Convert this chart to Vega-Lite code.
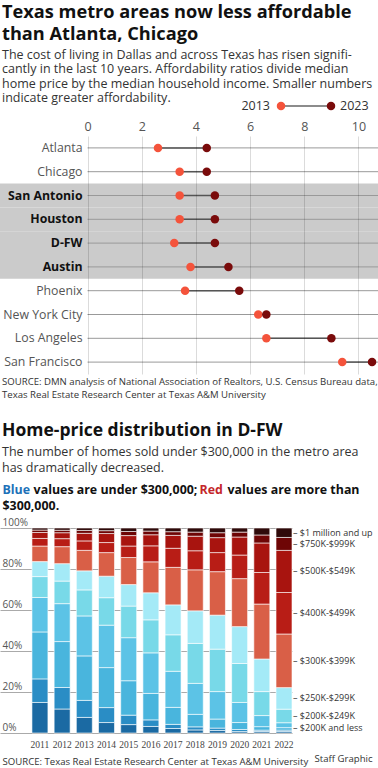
{
  "$schema": "https://vega.github.io/schema/vega-lite/v6.json",
  "padding": {"top": 3, "left": 0, "right": 0, "bottom": 0},
  "background": "white",
  "config": {
    "view": {"stroke": null},
    "font": "Open Sans",
    "title": {"font": "Open Sans"},
    "axis": {"labelFont": "Open Sans", "titleFont": "Open Sans"},
    "text": {"font": "Open Sans"}
  },
  "datasets": {
    "ratios": [
      {"city": "Atlanta", "year": 2013, "ratio": 2.6}, {"city": "Atlanta", "year": 2023, "ratio": 4.4},
      {"city": "Chicago", "year": 2013, "ratio": 3.4}, {"city": "Chicago", "year": 2023, "ratio": 4.4},
      {"city": "San Antonio", "year": 2013, "ratio": 3.4}, {"city": "San Antonio", "year": 2023, "ratio": 4.7},
      {"city": "Houston", "year": 2013, "ratio": 3.4}, {"city": "Houston", "year": 2023, "ratio": 4.7},
      {"city": "D-FW", "year": 2013, "ratio": 3.2}, {"city": "D-FW", "year": 2023, "ratio": 4.7},
      {"city": "Austin", "year": 2013, "ratio": 3.8}, {"city": "Austin", "year": 2023, "ratio": 5.2},
      {"city": "Phoenix", "year": 2013, "ratio": 3.6}, {"city": "Phoenix", "year": 2023, "ratio": 5.6},
      {"city": "New York City", "year": 2013, "ratio": 6.3}, {"city": "New York City", "year": 2023, "ratio": 6.6},
      {"city": "Los Angeles", "year": 2013, "ratio": 6.6}, {"city": "Los Angeles", "year": 2023, "ratio": 9.0},
      {"city": "San Francisco", "year": 2013, "ratio": 9.4}, {"city": "San Francisco", "year": 2023, "ratio": 10.5}
    ],
    "brackets": [
      {"cat": "Under $70K", "order": 0, "label": "$200K and less"},
      {"cat": "$70K-$99K", "order": 1, "label": "$200K and less"},
      {"cat": "$100K-$149K", "order": 2, "label": "$200K and less"},
      {"cat": "$150K-$199K", "order": 3, "label": "$200K and less"},
      {"cat": "$200K-$249K", "order": 4, "label": "$200K-$249K"},
      {"cat": "$250K-$299K", "order": 5, "label": "$250K-$299K"},
      {"cat": "$300K-$399K", "order": 6, "label": "$300K-$399K"},
      {"cat": "$400K-$499K", "order": 7, "label": "$400K-$499K"},
      {"cat": "$500K-$749K", "order": 8, "label": "$500K-$549K"},
      {"cat": "$750K-$999K", "order": 9, "label": "$750K-$999K"},
      {"cat": "$1M and up", "order": 10, "label": "$1 million and up"}
    ],
    "prices": [
      {"year": "2011", "cat": "Under $70K", "share": 14.9}, {"year": "2011", "cat": "$70K-$99K", "share": 11.5}, {"year": "2011", "cat": "$100K-$149K", "share": 22.9}, {"year": "2011", "cat": "$150K-$199K", "share": 16.8}, {"year": "2011", "cat": "$200K-$249K", "share": 10.2}, {"year": "2011", "cat": "$250K-$299K", "share": 7.3}, {"year": "2011", "cat": "$300K-$399K", "share": 7.6}, {"year": "2011", "cat": "$400K-$499K", "share": 3.7}, {"year": "2011", "cat": "$500K-$749K", "share": 2.9}, {"year": "2011", "cat": "$750K-$999K", "share": 1.2}, {"year": "2011", "cat": "$1M and up", "share": 1.0},
      {"year": "2012", "cat": "Under $70K", "share": 11.7}, {"year": "2012", "cat": "$70K-$99K", "share": 10.5}, {"year": "2012", "cat": "$100K-$149K", "share": 22.4}, {"year": "2012", "cat": "$150K-$199K", "share": 18.5}, {"year": "2012", "cat": "$200K-$249K", "share": 11.0}, {"year": "2012", "cat": "$250K-$299K", "share": 8.5}, {"year": "2012", "cat": "$300K-$399K", "share": 8.3}, {"year": "2012", "cat": "$400K-$499K", "share": 3.9}, {"year": "2012", "cat": "$500K-$749K", "share": 2.9}, {"year": "2012", "cat": "$750K-$999K", "share": 1.2}, {"year": "2012", "cat": "$1M and up", "share": 1.1},
      {"year": "2013", "cat": "Under $70K", "share": 7.6}, {"year": "2013", "cat": "$70K-$99K", "share": 8.3}, {"year": "2013", "cat": "$100K-$149K", "share": 21.7}, {"year": "2013", "cat": "$150K-$199K", "share": 19.5}, {"year": "2013", "cat": "$200K-$249K", "share": 12.7}, {"year": "2013", "cat": "$250K-$299K", "share": 9.3}, {"year": "2013", "cat": "$300K-$399K", "share": 10.0}, {"year": "2013", "cat": "$400K-$499K", "share": 4.6}, {"year": "2013", "cat": "$500K-$749K", "share": 3.7}, {"year": "2013", "cat": "$750K-$999K", "share": 1.4}, {"year": "2013", "cat": "$1M and up", "share": 1.2},
      {"year": "2014", "cat": "Under $70K", "share": 5.1}, {"year": "2014", "cat": "$70K-$99K", "share": 7.3}, {"year": "2014", "cat": "$100K-$149K", "share": 19.5}, {"year": "2014", "cat": "$150K-$199K", "share": 20.7}, {"year": "2014", "cat": "$200K-$249K", "share": 13.4}, {"year": "2014", "cat": "$250K-$299K", "share": 10.5}, {"year": "2014", "cat": "$300K-$399K", "share": 11.5}, {"year": "2014", "cat": "$400K-$499K", "share": 4.9}, {"year": "2014", "cat": "$500K-$749K", "share": 4.4}, {"year": "2014", "cat": "$750K-$999K", "share": 1.4}, {"year": "2014", "cat": "$1M and up", "share": 1.3},
      {"year": "2015", "cat": "Under $70K", "share": 4.1}, {"year": "2015", "cat": "$70K-$99K", "share": 4.6}, {"year": "2015", "cat": "$100K-$149K", "share": 16.8}, {"year": "2015", "cat": "$150K-$199K", "share": 21.0}, {"year": "2015", "cat": "$200K-$249K", "share": 15.4}, {"year": "2015", "cat": "$250K-$299K", "share": 10.5}, {"year": "2015", "cat": "$300K-$399K", "share": 13.2}, {"year": "2015", "cat": "$400K-$499K", "share": 5.6}, {"year": "2015", "cat": "$500K-$749K", "share": 5.1}, {"year": "2015", "cat": "$750K-$999K", "share": 2.0}, {"year": "2015", "cat": "$1M and up", "share": 1.7},
      {"year": "2016", "cat": "Under $70K", "share": 3.2}, {"year": "2016", "cat": "$70K-$99K", "share": 3.2}, {"year": "2016", "cat": "$100K-$149K", "share": 12.9}, {"year": "2016", "cat": "$150K-$199K", "share": 19.8}, {"year": "2016", "cat": "$200K-$249K", "share": 16.1}, {"year": "2016", "cat": "$250K-$299K", "share": 13.2}, {"year": "2016", "cat": "$300K-$399K", "share": 15.1}, {"year": "2016", "cat": "$400K-$499K", "share": 7.8}, {"year": "2016", "cat": "$500K-$749K", "share": 5.4}, {"year": "2016", "cat": "$750K-$999K", "share": 1.8}, {"year": "2016", "cat": "$1M and up", "share": 1.5},
      {"year": "2017", "cat": "Under $70K", "share": 2.2}, {"year": "2017", "cat": "$70K-$99K", "share": 2.0}, {"year": "2017", "cat": "$100K-$149K", "share": 8.3}, {"year": "2017", "cat": "$150K-$199K", "share": 17.6}, {"year": "2017", "cat": "$200K-$249K", "share": 17.8}, {"year": "2017", "cat": "$250K-$299K", "share": 14.6}, {"year": "2017", "cat": "$300K-$399K", "share": 18.3}, {"year": "2017", "cat": "$400K-$499K", "share": 9.3}, {"year": "2017", "cat": "$500K-$749K", "share": 6.3}, {"year": "2017", "cat": "$750K-$999K", "share": 1.8}, {"year": "2017", "cat": "$1M and up", "share": 1.8},
      {"year": "2018", "cat": "Under $70K", "share": 1.5}, {"year": "2018", "cat": "$70K-$99K", "share": 1.5}, {"year": "2018", "cat": "$100K-$149K", "share": 6.1}, {"year": "2018", "cat": "$150K-$199K", "share": 15.1}, {"year": "2018", "cat": "$200K-$249K", "share": 19.5}, {"year": "2018", "cat": "$250K-$299K", "share": 15.9}, {"year": "2018", "cat": "$300K-$399K", "share": 20.0}, {"year": "2018", "cat": "$400K-$499K", "share": 9.3}, {"year": "2018", "cat": "$500K-$749K", "share": 7.1}, {"year": "2018", "cat": "$750K-$999K", "share": 2.0}, {"year": "2018", "cat": "$1M and up", "share": 2.0},
      {"year": "2019", "cat": "Under $70K", "share": 1.2}, {"year": "2019", "cat": "$70K-$99K", "share": 1.2}, {"year": "2019", "cat": "$100K-$149K", "share": 4.4}, {"year": "2019", "cat": "$150K-$199K", "share": 13.4}, {"year": "2019", "cat": "$200K-$249K", "share": 20.7}, {"year": "2019", "cat": "$250K-$299K", "share": 16.6}, {"year": "2019", "cat": "$300K-$399K", "share": 21.2}, {"year": "2019", "cat": "$400K-$499K", "share": 9.3}, {"year": "2019", "cat": "$500K-$749K", "share": 7.3}, {"year": "2019", "cat": "$750K-$999K", "share": 2.4}, {"year": "2019", "cat": "$1M and up", "share": 2.3},
      {"year": "2020", "cat": "Under $70K", "share": 0.7}, {"year": "2020", "cat": "$70K-$99K", "share": 1.0}, {"year": "2020", "cat": "$100K-$149K", "share": 3.4}, {"year": "2020", "cat": "$150K-$199K", "share": 9.8}, {"year": "2020", "cat": "$200K-$249K", "share": 19.0}, {"year": "2020", "cat": "$250K-$299K", "share": 18.0}, {"year": "2020", "cat": "$300K-$399K", "share": 23.4}, {"year": "2020", "cat": "$400K-$499K", "share": 11.5}, {"year": "2020", "cat": "$500K-$749K", "share": 8.8}, {"year": "2020", "cat": "$750K-$999K", "share": 2.4}, {"year": "2020", "cat": "$1M and up", "share": 2.0},
      {"year": "2021", "cat": "Under $70K", "share": 0.7}, {"year": "2021", "cat": "$70K-$99K", "share": 0.7}, {"year": "2021", "cat": "$100K-$149K", "share": 1.7}, {"year": "2021", "cat": "$150K-$199K", "share": 5.4}, {"year": "2021", "cat": "$200K-$249K", "share": 11.7}, {"year": "2021", "cat": "$250K-$299K", "share": 15.9}, {"year": "2021", "cat": "$300K-$399K", "share": 26.8}, {"year": "2021", "cat": "$400K-$499K", "share": 15.4}, {"year": "2021", "cat": "$500K-$749K", "share": 14.4}, {"year": "2021", "cat": "$750K-$999K", "share": 3.9}, {"year": "2021", "cat": "$1M and up", "share": 3.4},
      {"year": "2022", "cat": "Under $70K", "share": 0.7}, {"year": "2022", "cat": "$70K-$99K", "share": 0.7}, {"year": "2022", "cat": "$100K-$149K", "share": 1.2}, {"year": "2022", "cat": "$150K-$199K", "share": 2.4}, {"year": "2022", "cat": "$200K-$249K", "share": 6.6}, {"year": "2022", "cat": "$250K-$299K", "share": 10.5}, {"year": "2022", "cat": "$300K-$399K", "share": 26.1}, {"year": "2022", "cat": "$400K-$499K", "share": 20.2}, {"year": "2022", "cat": "$500K-$749K", "share": 20.5}, {"year": "2022", "cat": "$750K-$999K", "share": 6.3}, {"year": "2022", "cat": "$1M and up", "share": 4.6}
    ]
  },
  "spacing": 22,
  "resolve": {"scale": {"color": "independent"}},
  "vconcat": [
    {
      "spacing": 7,
      "resolve": {"scale": {"color": "independent"}},
      "vconcat": [
        {
          "width": 378,
          "height": 12,
          "title": {
            "text": ["Texas metro areas now less affordable", "than Atlanta, Chicago"],
            "subtitle": ["The cost of living in Dallas and across Texas has risen signifi-", "cantly in the last 10 years. Affordability ratios divide median", "home price by the median household income. Smaller numbers", "indicate greater affordability."],
            "anchor": "start", "frame": "group", "dx": 2,
            "fontSize": 18.2, "fontWeight": "bold", "color": "#111", "lineHeight": 21.5,
            "subtitleFontSize": 12.5, "subtitleColor": "#333", "subtitleLineHeight": 14.6, "subtitlePadding": 5,
            "offset": -6
          },
          "data": {"name": "ratios"},
          "transform": [{"aggregate": [{"op": "count", "as": "n"}], "groupby": ["year"]}],
          "encoding": {
            "x": {"field": "year", "type": "quantitative", "scale": {"domain": [1956.8, 2032.4], "nice": false, "zero": false}, "axis": null}
          },
          "layer": [
            {"mark": {"type": "line", "color": "#666", "strokeWidth": 1.5}},
            {"mark": {"type": "circle", "size": 72, "opacity": 1},
             "encoding": {"color": {"field": "year", "type": "nominal", "scale": {"domain": [2013, 2023], "range": ["#f4533b", "#7a0b0b"]}, "legend": null}}},
            {"transform": [{"filter": "datum.year == 2013"}],
             "mark": {"type": "text", "align": "right", "baseline": "middle", "dx": -11, "fontSize": 12.5, "color": "#333"},
             "encoding": {"text": {"field": "year", "type": "nominal"}}},
            {"transform": [{"filter": "datum.year == 2023"}],
             "mark": {"type": "text", "align": "left", "baseline": "middle", "dx": 9, "fontSize": 12.5, "color": "#333"},
             "encoding": {"text": {"field": "year", "type": "nominal"}}}
          ]
        },
        {
          "width": 378,
          "height": 238,
          "title": {
            "text": ["SOURCE: DMN analysis of National Association of Realtors, U.S. Census Bureau data,", "Texas Real Estate Research Center at Texas A&M University"],
            "orient": "bottom", "anchor": "start", "frame": "group", "dx": 2,
            "fontSize": 9.6, "fontWeight": "normal", "color": "#333", "lineHeight": 13, "offset": 3
          },
          "data": {"name": "ratios"},
          "encoding": {
            "y": {"field": "city", "type": "nominal",
                  "sort": ["Atlanta", "Chicago", "San Antonio", "Houston", "D-FW", "Austin", "Phoenix", "New York City", "Los Angeles", "San Francisco"],
                  "scale": {"paddingInner": 0, "paddingOuter": 0},
                  "axis": {"title": null, "domain": false, "ticks": false, "tickSize": 0, "grid": false,
                           "labelAlign": "right", "labelBaseline": "middle", "labelPadding": -82, "labelFontSize": 12.3,
                           "labelColor": {"condition": {"test": "indexof(['San Antonio','Houston','D-FW','Austin'], datum.value) >= 0", "value": "#111"}, "value": "#555"},
                           "labelFontWeight": {"condition": {"test": "indexof(['San Antonio','Houston','D-FW','Austin'], datum.value) >= 0", "value": "bold"}, "value": "normal"},
                           "zindex": 2}}
          },
          "layer": [
            {
              "transform": [{"filter": "datum.year == 2013"}, {"filter": "indexof(['San Antonio','Houston','D-FW','Austin'], datum.city) >= 0"}],
              "mark": {"type": "rect", "color": "#cbcbcb"},
              "encoding": {
                "x": {"datum": -3.23, "type": "quantitative", "scale": {"domain": [-3.23, 10.72], "nice": false, "zero": false},
                      "axis": {"orient": "top", "values": [0, 2, 4, 6, 8, 10], "grid": true, "gridColor": "#000", "gridOpacity": 0.14,
                               "ticks": false, "domain": false, "labelPadding": 3, "labelFontSize": 12.5, "labelColor": "#555", "title": null, "zindex": 1}},
                "x2": {"datum": 10.72}
              }
            },
            {
              "transform": [{"filter": "datum.year == 2013"}],
              "mark": {"type": "rule", "color": "#999", "strokeWidth": 1},
              "encoding": {
                "x": {"datum": 0, "type": "quantitative", "scale": {"domain": [-3.23, 10.72], "nice": false, "zero": false}},
                "x2": {"datum": 10.72}
              }
            },
            {
              "mark": {"type": "line", "color": "#555", "strokeWidth": 1.5},
              "encoding": {
                "x": {"field": "ratio", "type": "quantitative", "scale": {"domain": [-3.23, 10.72], "nice": false, "zero": false}},
                "detail": {"field": "city"}
              }
            },
            {
              "mark": {"type": "circle", "size": 72, "opacity": 1},
              "encoding": {
                "x": {"field": "ratio", "type": "quantitative", "scale": {"domain": [-3.23, 10.72], "nice": false, "zero": false}},
                "color": {"field": "year", "type": "nominal", "scale": {"domain": [2013, 2023], "range": ["#f4533b", "#7a0b0b"]}, "legend": null}
              }
            }
          ]
        }
      ]
    },
    {
      "title": {
        "text": "Home-price distribution in D-FW",
        "subtitle": ["The number of homes sold under $300,000 in the metro area", "has dramatically decreased."],
        "anchor": "start", "frame": "group", "dx": 2,
        "fontSize": 17.5, "fontWeight": "bold", "color": "#111",
        "subtitleFontSize": 12.5, "subtitleColor": "#333", "subtitleLineHeight": 16, "subtitlePadding": 6,
        "offset": 9
      },
      "vconcat": [
        {
          "width": 292,
          "height": 205,
          "data": {"name": "prices"},
          "transform": [{"lookup": "cat", "from": {"data": {"name": "brackets"}, "key": "cat", "fields": ["order", "label"]}}],
          "title": {"text": "Staff Graphic", "orient": "bottom", "anchor": "end", "frame": "bounds", "fontSize": 9.6, "fontWeight": "normal", "color": "#333", "offset": -12},
          "layer": [
            {
              "mark": {"type": "bar", "stroke": "white", "strokeWidth": 1, "strokeOpacity": 0.6},
              "encoding": {
                "x": {"field": "year", "type": "ordinal", "scale": {"paddingInner": 0.28, "paddingOuter": 0.72, "align": 1},
                      "axis": {"orient": "bottom", "labelAngle": 0, "ticks": false, "domain": false, "labelPadding": 6,
                               "labelFont": "Liberation Sans Narrow", "labelFontSize": 9.5, "labelColor": "#444",
                               "title": "SOURCE: Texas Real Estate Research Center at Texas A&M University",
                               "titleAnchor": "start", "titleAlign": "left", "titleX": 2, "titleFontSize": 9.6, "titleFontWeight": "normal", "titleColor": "#333", "titlePadding": 8}},
                "y": {"field": "share", "type": "quantitative", "stack": "normalize", "scale": {"domain": [0, 1]},
                      "axis": {"orient": "left", "values": [0, 0.2, 0.4, 0.6, 0.8, 1], "format": ".0%", "grid": true, "gridColor": "#aaa",
                               "domain": false, "ticks": false, "tickSize": 0, "labelAlign": "left", "labelBaseline": "alphabetic",
                               "labelPadding": -2, "labelOffset": -3, "labelFontSize": 10, "labelColor": "#555",
                               "title": ["\u200b\u2003\u2003\u2005 values are under $300,000; \u2003\u2002\u2005\u2006 values are more than", "$300,000."],
                               "titleAngle": 0, "titleAlign": "left", "titleBaseline": "alphabetic", "titleX": 2, "titleY": -35,
                               "titleFontSize": 12.4, "titleFontWeight": "bold", "titleColor": "#111", "titleLineHeight": 16}},
                "color": {"field": "cat", "type": "nominal",
                          "scale": {"domain": ["Under $70K", "$70K-$99K", "$100K-$149K", "$150K-$199K", "$200K-$249K", "$250K-$299K", "$300K-$399K", "$400K-$499K", "$500K-$749K", "$750K-$999K", "$1M and up"],
                                    "range": ["#1b6aa3", "#2a8dc5", "#49b5dd", "#5cc3e6", "#78d9e8", "#a4eaf7", "#d95f47", "#b81d16", "#a8140f", "#6e0505", "#2f0a0a"]},
                          "legend": null},
                "order": {"field": "order", "type": "quantitative"}
              }
            },
            {
              "transform": [
                {"filter": "datum.year == '2022'"},
                {"aggregate": [{"op": "sum", "field": "share", "as": "share"}, {"op": "min", "field": "order", "as": "order"}], "groupby": ["year", "label"]},
                {"calculate": "'– ' + datum.label", "as": "txt"}
              ],
              "mark": {"type": "text", "align": "left", "baseline": "middle", "dx": 1, "fontSize": 9, "color": "#333"},
              "encoding": {
                "x": {"field": "year", "type": "ordinal", "bandPosition": 1,
                      "axis": {"orient": "top", "labels": false, "ticks": false, "domain": false, "grid": false,
                               "title": "Red", "titleAngle": 0, "titleAlign": "left", "titleBaseline": "alphabetic", "titleX": 199, "titleY": -35,
                               "titleFontSize": 12.4, "titleFontWeight": "bold", "titleColor": "#c4262b"}},
                "y": {"field": "share", "type": "quantitative", "stack": "normalize", "bandPosition": 0.5,
                      "axis": {"orient": "right", "labels": false, "ticks": false, "domain": false, "grid": false,
                               "title": "Blue", "titleAngle": 0, "titleAlign": "left", "titleBaseline": "alphabetic", "titleX": -290, "titleY": -35,
                               "titleFontSize": 12.4, "titleFontWeight": "bold", "titleColor": "#1d71b8"}},
                "order": {"field": "order", "type": "quantitative"},
                "text": {"field": "txt"}
              }
            }
          ],
          "resolve": {"axis": {"x": "independent", "y": "independent"}}
        }
      ]
    }
  ]
}
